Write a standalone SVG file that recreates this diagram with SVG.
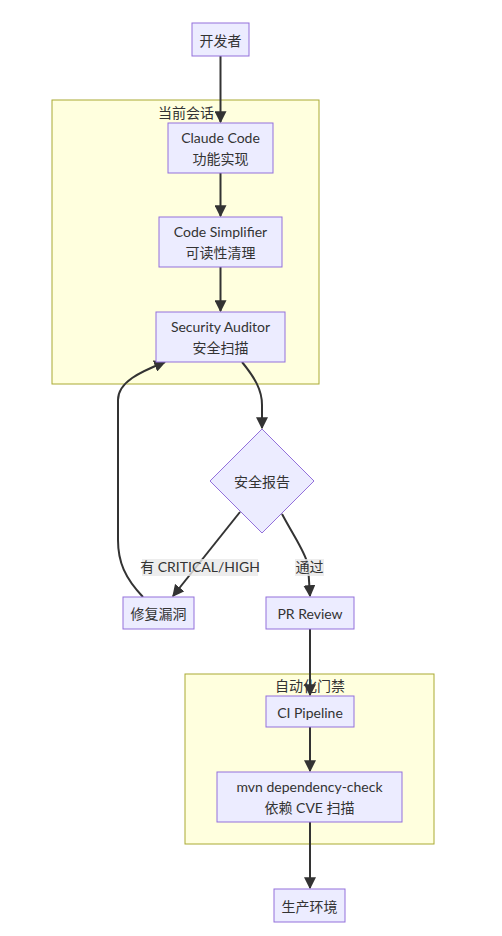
<svg xmlns="http://www.w3.org/2000/svg" width="502" height="936" viewBox="0 0 502 936">
<defs>
<style>
.node rect,.node polygon{fill:#ECECFF;stroke:#9370DB;stroke-width:1}
.cluster rect{fill:#FFFFDE;stroke:#AAAA33;stroke-width:1}
text{font-family:Lato,"Noto Sans CJK SC",sans-serif;font-size:14px;fill:#333333;text-anchor:middle}
.edges path{fill:none;stroke:#333333;stroke-width:2}
.lbl rect{fill:#E8E8E8;opacity:0.8}
</style>
<marker id="arr" viewBox="0 0 10 10" refX="9" refY="5" markerWidth="6" markerHeight="6" markerUnits="strokeWidth" orient="auto">
<path d="M0,0 L10,5 L0,10 z" fill="#333333"/>
</marker>
</defs>
<rect width="502" height="936" fill="#ffffff"/>
<g id="cluster-session" class="cluster">
<rect x="52" y="100" width="267" height="284"/>
<text x="186" y="118">当前会话</text>
</g>
<g id="cluster-gate" class="cluster">
<rect x="185" y="674" width="249" height="170"/>
<text x="310" y="691">自动化门禁</text>
</g>
<g id="edges" class="edges">
<path d="M220.5,56 L220.5,122" marker-end="url(#arr)"/>
<path d="M220.5,173 L220.5,216" marker-end="url(#arr)"/>
<path d="M220.5,267 L220.5,311" marker-end="url(#arr)"/>
<path d="M242,362 C255,378 262,390 262,405 L262,428" marker-end="url(#arr)"/>
<path d="M240,512 L173,596" marker-end="url(#arr)"/>
<path d="M282,514 C296,540 305,552 308,565 L310,596" marker-end="url(#arr)"/>
<path d="M143,597 C125,578 118,562 118,540 L118,400 C118,382 140,372 165,362" marker-end="url(#arr)"/>
<path d="M310,628 L310,695" marker-end="url(#arr)"/>
<path d="M310,727 L310,771" marker-end="url(#arr)"/>
<path d="M310,822 L310,888" marker-end="url(#arr)"/>
</g>
<g id="edge-labels">
<g class="lbl"><rect x="142" y="559" width="116" height="17"/><text x="200" y="572">有 CRITICAL/HIGH</text></g>
<g class="lbl"><rect x="295" y="559" width="29" height="17"/><text x="309.5" y="572">通过</text></g>
</g>
<g id="dev" class="node"><rect x="192" y="23" width="57" height="33"/><text x="220.5" y="45.5">开发者</text></g>
<g id="claude" class="node"><rect x="168" y="123" width="105" height="50"/><text x="220.5" y="143">Claude Code</text><text x="220.5" y="164">功能实现</text></g>
<g id="simplifier" class="node"><rect x="159" y="217" width="123" height="50"/><text x="220.5" y="237">Code Simplifier</text><text x="220.5" y="258">可读性清理</text></g>
<g id="auditor" class="node"><rect x="156" y="312" width="129" height="50"/><text x="220.5" y="332">Security Auditor</text><text x="220.5" y="353">安全扫描</text></g>
<g id="report" class="node"><polygon points="262,429 314,481 262,533 210,481"/><text x="262" y="487">安全报告</text></g>
<g id="fix" class="node"><rect x="123" y="597" width="71" height="32"/><text x="158.5" y="619">修复漏洞</text></g>
<g id="pr" class="node"><rect x="266" y="597" width="88" height="32"/><text x="310" y="619">PR Review</text></g>
<g id="ci" class="node"><rect x="266" y="696" width="88" height="31"/><text x="310" y="717.5">CI Pipeline</text></g>
<g id="mvn" class="node"><rect x="217" y="772" width="185" height="50"/><text x="309.5" y="792">mvn dependency-check</text><text x="309.5" y="813">依赖 CVE 扫描</text></g>
<g id="prod" class="node"><rect x="274" y="889" width="71" height="33"/><text x="309.5" y="911.5">生产环境</text></g>
</svg>
